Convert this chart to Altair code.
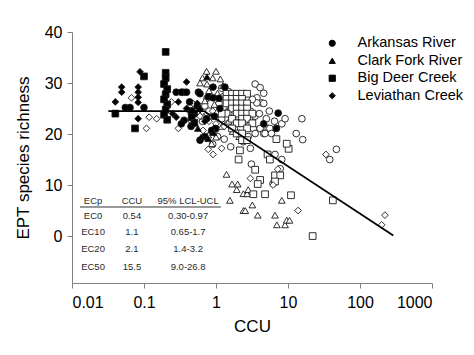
import altair as alt
import pandas as pd

rivers = ["Arkansas River", "Clark Fork River", "Big Deer Creek", "Leviathan Creek"]
shapes = ["circle", "triangle-up", "square", "diamond"]

# Arkansas River (circles)
ar_filled_ccu = [0.055, 0.064, 0.1, 0.28, 0.33, 0.39, 0.36, 0.33, 0.57, 0.6, 0.78, 0.91, 0.91, 1.33,
                 1.13, 0.74, 0.98, 0.87, 0.6, 0.43, 0.5, 0.7, 0.95, 7.3, 4.6, 6.9, 0.45, 1.1, 0.55]
ar_filled_rich = [25.2, 25.2, 25.2, 28.2, 28.2, 28.2, 22.7, 22.0, 28.2, 27.9, 27.3, 27.1, 29.2, 29.2,
                  25.0, 23.0, 21.1, 20.7, 18.8, 26.3, 24.0, 19.5, 23.5, 24.1, 22.0, 21.1, 21.5, 27.0, 25.5]
ar_open_ccu = [1.2, 1.5, 1.27, 2.5, 3.5, 4.1, 4.6, 3.7, 4.3, 3.7, 4.6, 1.1, 1.3, 1.5, 1.2, 1.45, 1.8, 2.2,
               1.0, 0.9, 0.8, 0.7, 0.75, 0.65, 1.05, 1.3, 2.0, 2.5, 2.9, 3.3, 4.1, 4.6, 3.5, 5.3, 5.6, 4.8,
               5.9, 3.0, 3.5, 4.0, 5.0, 5.5, 6.5, 8.2, 9.1, 15.6, 13.0, 16.0, 47, 38, 7.8, 6.6, 8.2, 3.1,
               3.0, 6.2, 2.8, 2.4, 0.9, 1.6, 0.35, 0.55, 0.45, 2.0, 3.2]
ar_open_rich = [29.0, 28.3, 27.3, 27.9, 29.8, 29.1, 28.0, 27.1, 26.1, 26.1, 26.0, 26.0, 25.0, 24.0, 23.0,
                22.0, 21.0, 20.0, 21.0, 23.5, 24.5, 25.5, 27.0, 22.5, 19.5, 19.0, 23.5, 22.5, 23.0, 21.1,
                21.1, 20.1, 20.1, 21.1, 21.1, 20.1, 20.1, 24.5, 23.5, 24.0, 23.0, 24.5, 22.5, 22.0, 23.0,
                23.0, 20.1, 18.9, 17.0, 15.0, 13.2, 16.0, 15.0, 14.1, 17.2, 10.3, 19.5, 18.5, 18.0, 17.5,
                28.2, 24.0, 22.8, 26.5, 26.8]

# Clark Fork River (triangles)
cf_filled_ccu = [0.75, 0.56, 0.62, 0.78, 0.92]
cf_filled_rich = [31.2, 21.1, 19.4, 19.1, 20.3]
cf_open_ccu = [0.74, 1.0, 0.65, 0.9, 1.15, 0.6, 0.75, 1.25, 0.8, 1.05, 0.7, 0.95, 1.4, 0.68, 1.5, 1.2,
               0.78, 1.0, 0.87, 1.7, 2.1, 1.4, 1.67, 2.0, 1.94, 1.56, 2.4, 2.55, 3.2, 3.8, 6.6, 7.0, 2.4,
               2.7, 2.8, 8.2, 9.1, 9.6, 10.5]
cf_open_rich = [32.3, 32.3, 31.0, 31.0, 30.8, 30.0, 29.8, 29.5, 28.5, 28.0, 26.5, 25.8, 24.5, 23.5, 22.5,
                21.5, 19.8, 19.4, 18.1, 20.5, 19.5, 12.1, 10.2, 10.2, 9.1, 7.0, 5.0, 5.0, 6.1, 4.1, 4.1,
                2.2, 8.3, 8.3, 9.1, 7.0, 2.2, 3.1, 3.1]

# Big Deer Creek (squares)
bd_filled_ccu = [0.2, 0.2, 0.2, 0.19, 0.21, 0.2, 0.19, 0.21, 0.2, 0.19, 0.21, 0.04, 0.075, 0.1,
                 0.46, 0.46, 0.5]
bd_filled_rich = [36.1, 32.0, 31.0, 29.8, 28.8, 27.8, 26.8, 25.8, 24.8, 23.8, 22.8, 24.0, 21.1, 31.3,
                  24.5, 23.3, 22.2]
bd_open_ccu = [1.4, 1.67, 1.94, 2.3, 2.7, 1.4, 1.67, 1.94, 2.3, 1.4, 1.67, 1.94, 2.3, 2.7, 1.67, 1.94,
               2.3, 2.7, 1.4, 1.94, 2.3, 2.7, 3.2, 1.67, 2.3, 2.7, 1.94, 2.3, 3.2, 1.67, 2.7, 1.94, 2.3,
               2.3, 2.7, 2.06, 3.5, 6.9, 10.2, 9.6, 5.2, 5.6, 4.1, 6.6, 7.8, 6.6, 3.3, 4.8, 11.0, 42,
               22, 2.15, 3.8, 1.2]
bd_open_rich = [27.9, 27.9, 27.9, 27.9, 27.9, 26.9, 26.9, 26.9, 26.9, 26.0, 26.0, 26.0, 26.0, 26.0,
                25.0, 25.0, 25.0, 25.0, 24.0, 24.0, 24.0, 24.0, 24.0, 23.0, 23.0, 23.0, 22.1, 22.1,
                22.1, 21.1, 21.1, 20.1, 20.1, 18.8, 18.8, 15.0, 13.0, 19.0, 17.1, 18.1, 16.0, 15.0,
                11.0, 11.9, 11.9, 10.7, 8.2, 8.2, 8.0, 7.0, 0.0, 16.8, 10.2, 24.0]

# Leviathan Creek (diamonds)
lc_filled_ccu = [0.088, 0.049, 0.049, 0.083, 0.083, 0.083, 0.083, 0.04, 0.083, 0.39, 0.3, 0.25,
                 0.28, 0.39, 0.6, 0.7, 0.55]
lc_filled_rich = [32.2, 29.2, 28.2, 29.2, 28.2, 27.2, 26.2, 26.3, 23.0, 30.2, 26.3, 24.0,
                  23.3, 25.0, 24.8, 22.5, 26.0]
lc_open_ccu = [0.067, 0.118, 0.15, 0.108, 0.37, 0.24, 0.44, 0.3, 0.5, 0.66, 0.78, 0.48, 0.41, 0.91,
               1.2, 3.0, 7.2, 6.2, 13.8, 33.6, 222, 200, 0.8, 1.0, 0.6, 1.3, 0.9]
lc_open_rich = [27.1, 23.3, 23.0, 21.1, 28.2, 26.3, 25.6, 21.1, 22.0, 20.7, 17.0, 26.0, 24.7, 16.0,
                17.2, 11.3, 13.1, 10.0, 5.0, 16.0, 4.1, 2.2, 22.5, 22.0, 23.5, 21.5, 24.5]

# Fitted threshold-regression line
fit_ccu = [0.032, 0.68, 290]
fit_rich = [24.5, 24.5, 0.1]

# Inset table
table_header = ["ECp", "CCU", "95% LCL-UCL"]
table_ecp = ["EC0", "EC10", "EC20", "EC50"]
table_ccu = ["0.54", "1.1", "2.1", "15.5"]
table_ci = ["0.30-0.97", "0.65-1.7", "1.4-3.2", "9.0-26.8"]
table_col_anchor = [0.0196, 0.068, 0.41]
table_row_anchor = [6.85, 3.9, 0.8, -2.5, -6.1]
table_rule_x = [0.0129, 1.17]
table_rule_y = 5.7

rows = []
def add(river, style, xs, ys):
    for x, y in zip(xs, ys):
        rows.append({"ccu": x, "rich": y, "river": river, "style": style})

add(rivers[0], "open", ar_open_ccu, ar_open_rich)
add(rivers[1], "open", cf_open_ccu, cf_open_rich)
add(rivers[2], "open", bd_open_ccu, bd_open_rich)
add(rivers[3], "open", lc_open_ccu, lc_open_rich)
add(rivers[0], "filled", ar_filled_ccu, ar_filled_rich)
add(rivers[1], "filled", cf_filled_ccu, cf_filled_rich)
add(rivers[2], "filled", bd_filled_ccu, bd_filled_rich)
add(rivers[3], "filled", lc_filled_ccu, lc_filled_rich)
df = pd.DataFrame(rows)
df["order"] = range(len(df))

cells = []
columns = [table_header] + [list(r) for r in zip(table_ecp, table_ccu, table_ci)]
for ri, row in enumerate(columns):
    for ci, txt in enumerate(row):
        cells.append({"ccu": table_col_anchor[ci], "rich": table_row_anchor[ri], "txt": txt})
tdf = pd.DataFrame(cells)

fit_df = pd.DataFrame({"ccu": fit_ccu, "rich": fit_rich})
rule_df = pd.DataFrame({"x1": [table_rule_x[0]], "x2": [table_rule_x[1]], "y": [table_rule_y]})

FONT = "Liberation Sans"
xs = alt.Scale(type="log", domain=[0.01, 1000], nice=False)
ys = alt.Scale(domain=[-9.2, 40], nice=False, zero=False)

x_axis = alt.Axis(values=[0.01, 0.1, 1, 10, 100, 1000], format="~g", grid=False,
                  labelFontSize=16, labelFont=FONT, labelColor="black", labelPadding=6,
                  titleFontSize=17, titleFont=FONT, titleFontWeight="normal", titleColor="black",
                  titlePadding=8, tickSize=5, domainColor="#808080", tickColor="#808080")
y_axis = alt.Axis(values=[0, 10, 20, 30, 40], grid=False,
                  labelFontSize=16, labelFont=FONT, labelColor="black", labelPadding=5,
                  titleFontSize=17, titleFont=FONT, titleFontWeight="normal", titleColor="black",
                  titlePadding=12, tickSize=5, domainColor="#808080", tickColor="#808080")

points = alt.Chart(df).mark_point(filled=True, size=45, strokeWidth=0.9, opacity=1).encode(
    x=alt.X("ccu:Q", scale=xs, axis=x_axis, title="CCU"),
    y=alt.Y("rich:Q", scale=ys, axis=y_axis, title="EPT species richness"),
    shape=alt.Shape("river:N", scale=alt.Scale(domain=rivers, range=shapes),
                    legend=alt.Legend(title=None, orient="none", legendX=253, legendY=4,
                                      labelFontSize=14.5, labelFont=FONT, labelColor="black",
                                      symbolSize=38, symbolFillColor="black",
                                      symbolStrokeColor="black", symbolStrokeWidth=1,
                                      rowPadding=2.5, labelOffset=18, padding=0)),
    fill=alt.Fill("style:N", scale=alt.Scale(domain=["filled", "open"], range=["black", "white"]),
                  legend=None),
    stroke=alt.value("#1a1a1a"),
    order=alt.Order("order:Q"),
)

fit = alt.Chart(fit_df).mark_line(color="black", strokeWidth=1.8).encode(
    x=alt.X("ccu:Q", scale=xs), y=alt.Y("rich:Q", scale=ys))

table_text = alt.Chart(tdf).mark_text(font=FONT, fontSize=9.5, color="#2a2a2a",
                                      align="center", baseline="middle").encode(
    x=alt.X("ccu:Q", scale=xs), y=alt.Y("rich:Q", scale=ys), text="txt:N")

table_rule = alt.Chart(rule_df).mark_rule(color="#333333", strokeWidth=1).encode(
    x=alt.X("x1:Q", scale=xs), x2="x2:Q", y=alt.Y("y:Q", scale=ys))

chart = alt.layer(points, fit, table_rule, table_text).properties(
    width=360, height=251,
    autosize=alt.AutoSizeParams(type="none"),
    padding={"left": 72, "top": 32, "right": 42, "bottom": 72},
    background="white",
).configure_view(stroke=None)

chart.save("out.html", embed_options={"renderer": "svg", "actions": False})
